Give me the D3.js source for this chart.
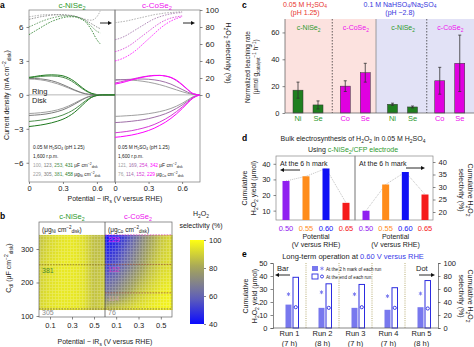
<!DOCTYPE html>
<html><head><meta charset="utf-8">
<script src="https://cdn.jsdelivr.net/npm/d3@7"></script>
<style>
body{margin:0;background:#fff;}
svg{font-family:"Liberation Sans",Arial,sans-serif;display:block;}
</style></head>
<body><div id="mainDiv"></div>
<script>
// ---------- panel a : RRDE curves ----------
var niPot = [0,.05,.1,.15,.2,.25,.3,.35,.4,.45,.5,.55,.6,.65,.7,.76];
var niCdl = ["100","123","253","431"];
var niRing = [
  [1.4,1.38,1.33,1.25,1.12,0.98,0.8,0.6,0.4,0.22,0.08,0.02,0,0,0,0],
  [1.45,1.45,1.42,1.35,1.25,1.1,0.9,0.68,0.45,0.25,0.1,0.03,0,0,0,0],
  [1.5,1.56,1.62,1.66,1.67,1.64,1.55,1.36,1.06,0.7,0.36,0.12,0.02,0,0,0],
  [1.55,1.62,1.7,1.75,1.77,1.75,1.68,1.5,1.2,0.8,0.42,0.15,0.03,0,0,0]];
var niDisk = [
  [-1.65,-1.62,-1.58,-1.52,-1.44,-1.33,-1.18,-0.98,-0.74,-0.48,-0.25,-0.08,-0.02,0,0,0],
  [-1.82,-1.79,-1.75,-1.69,-1.6,-1.48,-1.32,-1.1,-0.84,-0.55,-0.28,-0.1,-0.03,0,0,0],
  [-2.35,-2.3,-2.24,-2.16,-2.06,-1.94,-1.78,-1.56,-1.28,-0.92,-0.52,-0.2,-0.05,0,0,0],
  [-2.8,-2.74,-2.67,-2.58,-2.47,-2.33,-2.15,-1.9,-1.56,-1.12,-0.64,-0.24,-0.06,0,0,0]];
var niSelPot = [0,.05,.1,.15,.2,.25,.3,.35,.4,.45,.5,.55,.6,.63];
var niSel = [
  [92,93,94,94.5,94.5,94.5,94,93.5,92.5,91,89,88,92,99],
  [89,90.5,92,93,94,94.5,94.5,94,93,91,88,84,80,78],
  [80,83,86,88.5,90.5,92,93,93,92.5,90.5,87,81,75,73],
  [71,75,79,83,86.5,89,91,92,92,90,86,77,65,60]];

var coPot = [0,.05,.1,.15,.2,.25,.3,.35,.4,.45,.5,.55,.6,.65,.7,.76];
var coCdl = ["121","169","254","342"];
var coRing = [
  [1.35,1.35,1.33,1.3,1.26,1.2,1.12,1.02,0.9,0.76,0.6,0.44,0.28,0.14,0.04,0],
  [1.3,1.33,1.36,1.38,1.4,1.4,1.38,1.33,1.25,1.12,0.95,0.72,0.48,0.24,0.06,0],
  [1.05,1.15,1.27,1.38,1.5,1.6,1.67,1.72,1.72,1.66,1.52,1.25,0.88,0.45,0.1,0],
  [0.95,1.05,1.18,1.32,1.45,1.56,1.65,1.7,1.72,1.67,1.55,1.3,0.92,0.48,0.1,0]];
var coDisk = [
  [-1.9,-1.88,-1.85,-1.82,-1.78,-1.73,-1.66,-1.58,-1.48,-1.36,-1.2,-1.0,-0.75,-0.45,-0.15,0],
  [-2.45,-2.42,-2.38,-2.33,-2.27,-2.2,-2.1,-1.98,-1.84,-1.67,-1.46,-1.2,-0.9,-0.55,-0.2,0],
  [-3.35,-3.3,-3.24,-3.16,-3.06,-2.94,-2.8,-2.62,-2.4,-2.14,-1.84,-1.48,-1.08,-0.65,-0.25,0],
  [-3.75,-3.7,-3.63,-3.55,-3.44,-3.31,-3.15,-2.95,-2.7,-2.42,-2.08,-1.68,-1.22,-0.72,-0.27,0]];
var coSelPot = [0,.05,.1,.15,.2,.25,.3,.35,.4,.45,.5,.55,.6];
var coSel = [
  [85,86,87,88.5,90,91.5,93,94.5,95.5,96.5,97,97.5,98],
  [65,67,70,74,78,82,86,89.5,92,94,95.5,96.5,97],
  [51,53,56,60,65,70,75,80,84.5,88,90.5,92,93],
  [40,42,45,49,54,60,66,72,78,83,87,90,92]];

var niLoad = ["229","305","381","458"];
var coLoad = ["76","114","152","229"];

// ---------- panel b : selectivity map ----------
var hmPot = [0,0.1,0.2,0.3,0.4,0.5,0.6];
var hmNiCdl = [121,253,345];
var hmNiSel = [
  [91,94,95,95,94,87,90],
  [89,93,95,95,94,86,88],
  [86,91,94,95,93,86,85]];
var hmCoCdl = [121,169,254,342];
var hmCoSel = [
  [85,88,91,94,96,97,98],
  [65,71,79,87,92,95.5,97],
  [51,56,65,75,84.5,90.5,93],
  [40,45,54,66,78,87,92]];
var cbTicks = [40,60,80,100];

// ---------- panel c : leaching ----------
var cGroups = ["c-NiSe_{2}","c-CoSe_{2}","c-NiSe_{2}","c-CoSe_{2}"];
var cElems = [["Ni","Se"],["Co","Se"],["Ni","Se"],["Co","Se"]];
var cVals = [[17,6],[20,30],[6.5,4.5],[24,37]];
var cErr = [[6,3],[4,7],[0.8,0.7],[10,21]];

// ---------- panel d : bulk electrosynthesis ----------
var dPot = ["0.50","0.55","0.60","0.65"];
var dYield = [29,32,37,15];
var dSel = [20.5,31,36,27];

// ---------- panel e : long-term runs ----------
var eRuns = ["Run 1","Run 2","Run 3","Run 4","Run 5"];
var eHours = ["(7 h)","(8 h)","(7 h)","(7 h)","(8 h)"];
var eYield2h = [18,15.5,15.5,14,16];
var eYieldEnd = [39,34,33.5,31,36.5];
var eSel2h = [52,55,52,49,53];
var eSelEnd = [32,31,32,31,30];

var GREEN = "#2e9a2e";
var MAG = "#ee10ee";
var niColors = ["#a0a0a0","#7c7c7c","#4f8f4f","#1f7a1f"];
var coColors = ["#a0a0a0","#a070a8","#d43cd4","#ff00ff"];

var svg = d3.select("#mainDiv").append("svg").attr("width",474).attr("height",347);

// text with _{sub} and ^{sup} pieces, segs = [[text,color],...]
function rich(g, x, y, segs, o){
    o = o || {};
    var size = o.size || 7;
    var t = g.append("text").attr("x",x).attr("y",y).attr("font-size",size)
        .attr("text-anchor",o.anchor || "start").attr("fill",o.fill || "#222");
    if(o.weight) t.attr("font-weight",o.weight);
    if(o.rotate) t.attr("transform","rotate("+o.rotate+","+x+","+y+")");
    if(typeof segs == "string") segs = [[segs]];
    var shift = 0;
    segs.forEach(function(s){
        s[0].split(/(_\{[^}]*\}|\^\{[^}]*\})/).forEach(function(p){
            if(!p) return;
            var ts = t.append("tspan");
            if(s[1]) ts.attr("fill",s[1]);
            var want = 0, txt = p;
            if(p[0]=="_" && p[1]=="{"){ want = size*0.28; txt = p.slice(2,-1); ts.attr("font-size",size*0.7); }
            else if(p[0]=="^" && p[1]=="{"){ want = -size*0.38; txt = p.slice(2,-1); ts.attr("font-size",size*0.7); }
            if(want != shift){ ts.attr("dy",want-shift); shift = want; }
            ts.text(txt);
        });
    });
    return t;
}

function styleAxis(g, size){
    g.selectAll("path,line").attr("stroke","#555").attr("stroke-width",0.7);
    g.selectAll("text").attr("font-size",size || 7).attr("fill","#222")
        .attr("font-family","Liberation Sans, Arial, sans-serif");
}

function arrow(g, x1, y1, x2, y2){
    var dir = x2 > x1 ? 1 : -1;
    g.append("line").attr("x1",x1).attr("y1",y1).attr("x2",x2-dir*3).attr("y2",y2)
        .attr("stroke","#111").attr("stroke-width",0.9);
    g.append("path").attr("d","M"+x2+","+y2+"L"+(x2-dir*4)+","+(y2-2)+"L"+(x2-dir*4)+","+(y2+2)+"Z")
        .attr("fill","#111");
}

function panelLetter(x, y, s){
    svg.append("text").attr("x",x).attr("y",y).attr("font-size",8.5)
        .attr("font-weight","bold").text(s);
}

// ================= panel a =================
function drawPanelA(){
    var g = svg.append("g");
    var xL = d3.scaleLinear([0,0.76],[29,115]);
    var xR = d3.scaleLinear([0,0.76],[115,200]);
    var yJ = d3.scaleLinear([-7.7,7.5],[182,10]);
    var yS = d3.scaleLinear([0,100],[95,10]);

    [xL,xR].forEach(function(x){
        g.append("rect").attr("x",x.range()[0]).attr("y",10)
            .attr("width",x.range()[1]-x.range()[0]).attr("height",172)
            .attr("fill","none").attr("stroke","#777").attr("stroke-width",0.7);
    });
    g.append("line").attr("x1",29).attr("x2",200).attr("y1",yJ(0)).attr("y2",yJ(0))
        .attr("stroke","#888").attr("stroke-width",0.6);

    var axL = g.append("g").attr("transform","translate(29,0)")
        .call(d3.axisLeft(yJ).tickValues([-6,-3,0,3,6]).tickSize(2.5).tickFormat(d3.format("d")));
    axL.select(".domain").remove();
    styleAxis(axL, 8);
    axL.selectAll("text").text(function(d){ return d < 0 ? "\u2212"+(-d) : d; });

    var axR = g.append("g").attr("transform","translate(200,0)")
        .call(d3.axisRight(yS).tickValues([0,20,40,60,80,100]).tickSize(2.5));
    axR.select(".domain").remove();
    styleAxis(axR, 8);

    [xL,xR].forEach(function(x){
        var ax = g.append("g").attr("transform","translate(0,182)")
            .call(d3.axisBottom(x).tickValues([0,0.3,0.6]).tickSize(2).tickPadding(1.5)
            .tickFormat(function(d){ return d==0?"0":d3.format(".1f")(d); }));
        ax.select(".domain").remove();
        styleAxis(ax, 7.5);
    });

    var sets = [
        {x:xL, pot:niPot, ring:niRing, disk:niDisk, sp:niSelPot, sel:niSel, col:niColors},
        {x:xR, pot:coPot, ring:coRing, disk:coDisk, sp:coSelPot, sel:coSel, col:coColors}];
    sets.forEach(function(s){
        var lj = d3.line().curve(d3.curveMonotoneX)
            .x(function(d,i){ return s.x(s.pot[i]); }).y(function(d){ return yJ(d); });
        var ls = d3.line().curve(d3.curveMonotoneX)
            .x(function(d,i){ return s.x(s.sp[i]); }).y(function(d){ return yS(d); });
        s.ring.concat(s.disk).forEach(function(arr,k){
            g.append("path").attr("d",lj(arr)).attr("fill","none")
                .attr("stroke",s.col[k%4]).attr("stroke-width",1);
        });
        s.sel.forEach(function(arr,k){
            g.append("path").attr("d",ls(arr)).attr("fill","none")
                .attr("stroke",s.col[k]).attr("stroke-width",0.8).attr("stroke-dasharray","1.6,1.2");
        });
    });

    arrow(g, 100, 23, 112, 23);
    arrow(g, 183, 23, 195, 23);

    rich(g, 72, 7.5, [["c-NiSe_{2}",GREEN]], {anchor:"middle", size:8});
    rich(g, 157, 7.5, [["c-CoSe_{2}",MAG]], {anchor:"middle", size:8});
    g.append("text").attr("x",32).attr("y",94).attr("font-size",7.5).attr("fill","#222").text("Ring");
    g.append("text").attr("x",32).attr("y",103).attr("font-size",7.5).attr("fill","#222").text("Disk");

    [[33,niCdl,niLoad,niColors,"Ni"],[118,coCdl,coLoad,coColors,"Co"]].forEach(function(b){
        rich(g, b[0], 149, "0.05 M H_{2}SO_{4} (pH 1.25)", {size:4.8});
        rich(g, b[0], 157.5, "1,600 r.p.m.", {size:4.8});
        var s1 = [], s2 = [];
        b[1].forEach(function(v,i){ s1.push([v+(i<3?", ":" "), b[3][i]]); s2.push([b[2][i]+(i<3?", ":" "), b[3][i]]); });
        s1.push(["\u03BCF cm^{\u22122}_{disk}"]);
        s2.push(["\u03BCg_{"+b[4]+"} cm^{\u22122}_{disk}"]);
        rich(g, b[0], 166.5, s1, {size:4.8});
        rich(g, b[0], 176, s2, {size:4.8});
    });

    rich(g, 115, 201, "Potential \u2212 iR_{s} (V versus RHE)", {anchor:"middle", size:7});
    rich(g, 9, 95, "Current density (mA cm^{\u22122}_{disk})", {anchor:"middle", size:7, rotate:-90});
    rich(g, 226, 53, "H_{2}O_{2} selectivity (%)", {anchor:"middle", size:7, rotate:90});
}

// ================= panel b =================
function drawPanelB(){
    var g = svg.append("g");
    var yC = d3.scaleLinear([100,400],[316,215.5]);
    var xs = [d3.scaleLinear([0,0.6],[39,105]), d3.scaleLinear([0,0.6],[105,172])];
    var color = d3.scaleLinear().domain([40,60,80,100])
        .range(["#0a0aff","#6666b2","#a3a35c","#ffff12"]).clamp(true);

    function valueAt(cdls, grid, p, c){
        var fi = Math.max(0, Math.min(hmPot.length-1.0001, p/0.1));
        var i = Math.floor(fi), fx = fi - i;
        var j = 0;
        c = Math.max(cdls[0], Math.min(cdls[cdls.length-1], c));
        while(j < cdls.length-2 && c > cdls[j+1]) j++;
        var fy = (c - cdls[j])/(cdls[j+1]-cdls[j]);
        var a = grid[j][i]*(1-fx) + grid[j][i+1]*fx;
        var b = grid[j+1][i]*(1-fx) + grid[j+1][i+1]*fx;
        return a*(1-fy) + b*fy;
    }

    var top = yC(342), bot = yC(121);
    [[xs[0],hmNiCdl,hmNiSel],[xs[1],hmCoCdl,hmCoSel]].forEach(function(s){
        var cells = [];
        var x0 = s[0].range()[0], x1 = s[0].range()[1];
        for(var px = x0; px < x1; px += 1.5){
            for(var py = top; py < bot; py += 1.5){
                cells.push([px, py, valueAt(s[1], s[2], s[0].invert(px+0.75), yC.invert(py+0.75))]);
            }
        }
        g.append("g").selectAll("rect").data(cells).join("rect")
            .attr("x",function(d){ return d[0]; }).attr("y",function(d){ return d[1]; })
            .attr("width",1.6).attr("height",1.6).attr("fill",function(d){ return color(d[2]); });
    });

    g.append("rect").attr("x",39).attr("y",222).attr("width",133).attr("height",95)
        .attr("fill","none").attr("stroke","#666").attr("stroke-width",0.7);
    g.append("line").attr("x1",105).attr("x2",105).attr("y1",222).attr("y2",317)
        .attr("stroke","#555").attr("stroke-width",0.8);

    var dashes = [[39,105,253,"#8a6a28"],[39,105,121,"#6e5a2a"],[105,172,342,"#e040c0"],
                  [105,172,254,"#a0503a"],[105,172,169,"#a0503a"],[105,172,121,"#6e5a2a"]];
    dashes.forEach(function(d){
        g.append("line").attr("x1",d[0]).attr("x2",d[1]).attr("y1",yC(d[2])).attr("y2",yC(d[2]))
            .attr("stroke",d[3]).attr("stroke-width",0.8).attr("stroke-dasharray","1.6,1.2");
    });

    var labs = [[42,yC(253)+8,"381","#4a8a2a"],[42,314.5,"305","#8a8a8a"],[108,yC(342)+7.5,"229","#ee22ee"],
                [108,yC(254)+8,"152","#d040c0"],[108,yC(169)+8,"114","#c8a0a8"],[108,314.5,"76","#8a8a8a"]];
    labs.forEach(function(l){
        g.append("text").attr("x",l[0]).attr("y",l[1]).attr("font-size",7).attr("fill",l[3]).text(l[2]);
    });

    rich(g, 42, 231.5, "(\u03BCg_{Ni} cm^{\u22122}_{disk})", {size:6.5});
    rich(g, 108, 231.5, "(\u03BCg_{Co} cm^{\u22122}_{disk})", {size:6.5});
    rich(g, 72, 219, [["c-NiSe_{2}",GREEN]], {anchor:"middle", size:7.5});
    rich(g, 138, 219, [["c-CoSe_{2}",MAG]], {anchor:"middle", size:7.5});

    var ay = g.append("g").attr("transform","translate(39,0)")
        .call(d3.axisLeft(yC).tickValues([100,200,300]).tickSize(2.5));
    ay.select(".domain").remove();
    styleAxis(ay, 7.5);
    xs.forEach(function(x){
        var ax = g.append("g").attr("transform","translate(0,317)")
            .call(d3.axisBottom(x).tickValues([0.1,0.3,0.5]).tickSize(2.5).tickFormat(d3.format(".1f")));
        ax.select(".domain").remove();
        styleAxis(ax, 7.5);
    });
    rich(g, 105, 344, "Potential \u2212 iR_{s} (V versus RHE)", {anchor:"middle", size:7});
    rich(g, 11, 268, "C_{dl} (\u03BCF cm^{\u22122}_{disk})", {anchor:"middle", size:7, rotate:-90});

    // colour bar
    var yB = d3.scaleLinear([40,100],[324,240]);
    var defs = svg.append("defs");
    var grad = defs.append("linearGradient").attr("id","cbGrad")
        .attr("x1",0).attr("x2",0).attr("y1",1).attr("y2",0);
    d3.range(0,1.0001,0.1).forEach(function(t){
        grad.append("stop").attr("offset",t).attr("stop-color",color(40+60*t));
    });
    g.append("rect").attr("x",190).attr("y",240).attr("width",14).attr("height",84).attr("fill","url(#cbGrad)");
    var ab = g.append("g").attr("transform","translate(204,0)")
        .call(d3.axisRight(yB).tickValues(cbTicks).tickSize(2));
    ab.select(".domain").remove();
    styleAxis(ab, 7.5);
    rich(g, 201, 216, "H_{2}O_{2}", {anchor:"middle", size:7});
    rich(g, 201, 228, "selectivity (%)", {anchor:"middle", size:7});
}

// ================= panel c =================
function drawPanelC(){
    var g = svg.append("g");
    var xG = d3.scaleBand().domain(d3.range(4)).range([285,474]);
    var xIn = d3.scalePoint().domain([0,1]).range([13,33]);
    var y = d3.scaleLinear([0,70],[113,19]);

    g.append("rect").attr("x",285).attr("y",19).attr("width",91).attr("height",94).attr("fill","#fce2df");
    g.append("rect").attr("x",376).attr("y",19).attr("width",98).attr("height",94).attr("fill","#e2e2f6");
    g.append("line").attr("x1",376).attr("x2",376).attr("y1",19).attr("y2",113).attr("stroke","#888").attr("stroke-width",0.8);
    [1,3].forEach(function(i){
        g.append("line").attr("x1",xG(i)).attr("x2",xG(i)).attr("y1",19).attr("y2",113)
            .attr("stroke","#222").attr("stroke-width",0.7).attr("stroke-dasharray","1.5,1.5");
    });

    cVals.forEach(function(pair,i){
        var col = i%2==0 ? "#1f7f1f" : "#e000e0";
        var lc = i%2==0 ? GREEN : MAG;
        pair.forEach(function(v,k){
            var cx = xG(i) + xIn(k);
            g.append("rect").attr("x",cx-5).attr("y",y(v)).attr("width",10).attr("height",y(0)-y(v))
                .attr("fill",col).attr("stroke","#333").attr("stroke-width",0.5);
            var e = cErr[i][k];
            g.append("line").attr("x1",cx).attr("x2",cx).attr("y1",y(v-e)).attr("y2",y(v+e))
                .attr("stroke","#333").attr("stroke-width",0.8);
            [v-e,v+e].forEach(function(yy){
                g.append("line").attr("x1",cx-1.5).attr("x2",cx+1.5).attr("y1",y(yy)).attr("y2",y(yy))
                    .attr("stroke","#333").attr("stroke-width",0.8);
            });
            g.append("text").attr("x",cx).attr("y",121).attr("font-size",7.5).attr("text-anchor","middle")
                .attr("fill",lc).text(cElems[i][k]);
        });
        rich(g, xG(i)+xG.bandwidth()/2, 30, [[cGroups[i], lc]], {anchor:"middle", size:7});
    });

    var ay = g.append("g").attr("transform","translate(285,0)")
        .call(d3.axisLeft(y).tickValues([0,20,40,60]).tickSize(2.5));
    ay.select(".domain").attr("d","M0,19V113");
    styleAxis(ay, 7.5);
    g.append("line").attr("x1",285).attr("x2",474).attr("y1",113).attr("y2",113).attr("stroke","#555").attr("stroke-width",0.7);

    rich(g, 305, 6.5, [["0.05 M H_{2}SO_{4}","#e8352e"]], {anchor:"middle", size:7});
    rich(g, 305, 14.5, [["(pH 1.25)","#e8352e"]], {anchor:"middle", size:7});
    rich(g, 400, 6.5, [["0.1 M NaHSO_{4}/Na_{2}SO_{4}","#3636dd"]], {anchor:"middle", size:7});
    rich(g, 400, 14.5, [["(pH ~2.8)","#3636dd"]], {anchor:"middle", size:7});

    rich(g, 250, 67, "Normalized leaching rate", {anchor:"middle", size:6.5, rotate:-90});
    rich(g, 258, 67, "(\u03BCmol g_{catalyst}^{\u22121} h^{\u22121})", {anchor:"middle", size:6.5, rotate:-90});
}

// ================= panel d =================
function drawPanelD(){
    var g = svg.append("g");
    var cols = ["#9020f0","#ff8c1a","#1010f5","#f51a1a"];
    var xL = d3.scalePoint().domain(dPot).range([286,346]);
    var xR = d3.scalePoint().domain(dPot).range([366,425]);
    var yL = d3.scaleLinear([4,45],[220,156]);
    var yR = d3.scaleLinear([16.8,42.4],[220,156]);

    [[276,355],[355,433]].forEach(function(r){
        g.append("rect").attr("x",r[0]).attr("y",156).attr("width",r[1]-r[0]).attr("height",64)
            .attr("fill","none").attr("stroke","#888").attr("stroke-width",0.7);
    });

    [[xL,yL,dYield],[xR,yR,dSel]].forEach(function(s){
        var line = d3.line().x(function(d,i){ return s[0](dPot[i]); }).y(function(d){ return s[1](d); });
        g.append("path").attr("d",line(s[2])).attr("fill","none").attr("stroke","#999")
            .attr("stroke-width",0.6).attr("stroke-dasharray","1,1");
        s[2].forEach(function(v,i){
            g.append("rect").attr("x",s[0](dPot[i])-3.5).attr("y",s[1](v)).attr("width",7)
                .attr("height",220-s[1](v)).attr("fill",cols[i]);
            g.append("text").attr("x",s[0](dPot[i])).attr("y",231).attr("font-size",7.5)
                .attr("text-anchor","middle").attr("fill",cols[i]).text(dPot[i]);
        });
        var cx = (s[0].range()[0]+s[0].range()[1])/2;
        g.append("text").attr("x",cx).attr("y",239).attr("font-size",7).attr("text-anchor","middle").attr("fill","#222").text("Potential");
        g.append("text").attr("x",cx).attr("y",247).attr("font-size",7).attr("text-anchor","middle").attr("fill","#222").text("(V versus RHE)");
    });

    var al = g.append("g").attr("transform","translate(276,0)")
        .call(d3.axisLeft(yL).tickValues([10,20,30,40]).tickSize(2.5));
    al.select(".domain").remove();
    styleAxis(al, 7.5);
    var ar = g.append("g").attr("transform","translate(433,0)")
        .call(d3.axisRight(yR).tickValues([20,25,30,35,40]).tickSize(2.5));
    ar.select(".domain").remove();
    styleAxis(ar, 7.5);

    g.append("text").attr("x",280).attr("y",166).attr("font-size",7).attr("fill","#222").text("At the 6 h mark");
    g.append("text").attr("x",359).attr("y",166).attr("font-size",7).attr("fill","#222").text("At the 6 h mark");
    arrow(g, 300, 170, 280, 170);
    arrow(g, 406, 168, 425, 168);

    rich(g, 353, 141, "Bulk electrosynthesis of H_{2}O_{2} in 0.05 M H_{2}SO_{4}", {anchor:"middle", size:7});
    rich(g, 353, 152, [["Using "],["c-NiSe_{2}/CFP electrode",GREEN]], {anchor:"middle", size:7});

    rich(g, 247, 188, "Cumulative", {anchor:"middle", size:7, rotate:-90});
    rich(g, 256, 188, "H_{2}O_{2} yield (\u03BCmol)", {anchor:"middle", size:7, rotate:-90});
    rich(g, 468, 190, "Cumulative H_{2}O_{2}", {anchor:"middle", size:7, rotate:90});
    rich(g, 459, 190, "selectivity (%)", {anchor:"middle", size:7, rotate:90});
}

// ================= panel e =================
function drawPanelE(){
    var g = svg.append("g");
    var x = d3.scaleBand().domain(eRuns).range([273,438]);
    var yL = d3.scaleLinear([0,50],[328,263]);
    var yR = d3.scaleLinear([0,100],[328,263]);
    var fillC = "#7878ee", lineC = "#2c2ce0";
    var star = d3.symbol(d3.symbolAsterisk, 10);

    eRuns.forEach(function(r,i){
        if(i > 0){
            g.append("line").attr("x1",x(r)).attr("x2",x(r)).attr("y1",263).attr("y2",328)
                .attr("stroke","#9a8a3a").attr("stroke-width",0.7).attr("stroke-dasharray","1,1.2");
        }
        var c = x(r) + x.bandwidth()/2;
        g.append("rect").attr("x",c-4).attr("y",yL(eYield2h[i])).attr("width",6)
            .attr("height",328-yL(eYield2h[i])).attr("fill",fillC);
        g.append("rect").attr("x",c+3.5).attr("y",yL(eYieldEnd[i])).attr("width",5.5)
            .attr("height",328-yL(eYieldEnd[i])).attr("fill","none").attr("stroke",lineC).attr("stroke-width",1);
        g.append("path").attr("d",star()).attr("transform","translate("+(c-1)+","+yR(eSel2h[i])+")")
            .attr("stroke",fillC).attr("stroke-width",0.9).attr("fill","none");
        g.append("circle").attr("cx",c+6.25).attr("cy",yR(eSelEnd[i])).attr("r",1.6)
            .attr("fill","#fff").attr("stroke",lineC).attr("stroke-width",0.9);
        g.append("text").attr("x",c).attr("y",336).attr("font-size",7.5).attr("text-anchor","middle").attr("fill","#222").text(r);
        g.append("text").attr("x",c).attr("y",345.5).attr("font-size",7.5).attr("text-anchor","middle").attr("fill","#222").text(eHours[i]);
    });

    var al = g.append("g").attr("transform","translate(273,0)")
        .call(d3.axisLeft(yL).tickValues([0,10,20,30,40,50]).tickSize(2.5));
    styleAxis(al, 7.5);
    var ar = g.append("g").attr("transform","translate(438,0)")
        .call(d3.axisRight(yR).tickValues([0,20,40,60,80,100]).tickSize(2.5));
    styleAxis(ar, 7.5);
    g.append("line").attr("x1",273).attr("x2",438).attr("y1",328).attr("y2",328).attr("stroke","#555").attr("stroke-width",0.7);

    // legend
    g.append("rect").attr("x",312).attr("y",266).attr("width",6).attr("height",5).attr("fill",fillC);
    g.append("path").attr("d",star()).attr("transform","translate(322,268.5)").attr("stroke",fillC).attr("stroke-width",0.8).attr("fill","none");
    g.append("rect").attr("x",312).attr("y",274).attr("width",6).attr("height",5).attr("fill","none").attr("stroke",lineC).attr("stroke-width",0.9);
    g.append("circle").attr("cx",322).attr("cy",276.5).attr("r",1.5).attr("fill","#fff").attr("stroke",lineC).attr("stroke-width",0.9);
    g.append("text").attr("x",326).attr("y",270.5).attr("font-size",4.6).attr("fill","#222").text("At the 2 h mark of each run");
    g.append("text").attr("x",326).attr("y",278.5).attr("font-size",4.6).attr("fill","#222").text("At the end of each run");

    g.append("text").attr("x",277).attr("y",271).attr("font-size",7.5).attr("fill","#222").text("Bar");
    arrow(g, 290, 275, 275, 275);
    g.append("text").attr("x",416).attr("y",271).attr("font-size",7.5).attr("fill","#222").text("Dot");
    arrow(g, 419, 275, 435, 275);

    rich(g, 353, 259, [["Long-term operation at "],["0.60 V versus RHE","#3a3ae8"]], {anchor:"middle", size:7.5});
    rich(g, 248, 296, "Cumulative", {anchor:"middle", size:7, rotate:-90});
    rich(g, 257, 296, "H_{2}O_{2} yield (\u03BCmol)", {anchor:"middle", size:7, rotate:-90});
    rich(g, 468, 296, "Cumulative H_{2}O_{2}", {anchor:"middle", size:7, rotate:90});
    rich(g, 459, 296, "selectivity (%)", {anchor:"middle", size:7, rotate:90});
}

drawPanelA();
drawPanelB();
drawPanelC();
drawPanelD();
drawPanelE();
panelLetter(0, 8, "a");
panelLetter(0, 219, "b");
panelLetter(242, 8, "c");
panelLetter(242, 141, "d");
panelLetter(242, 257, "e");
</script>
</body></html>
